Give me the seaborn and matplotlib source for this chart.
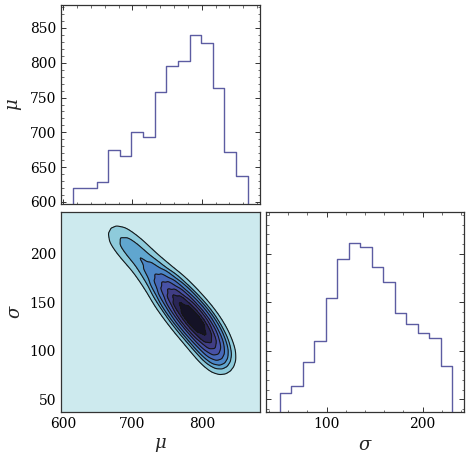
import sys, traceback
import numpy as np
import pandas as pd
import matplotlib
matplotlib.use("Agg")
import matplotlib.pyplot as plt
from matplotlib.ticker import MultipleLocator
from matplotlib.colors import ListedColormap
import seaborn as sns

# ---------------- data ----------------
# marginal histogram of mu (step outline), bin range and bar heights
mu_bin_range = (615.0, 866.0)
mu_heights = [620, 620, 629, 675, 666, 700, 693, 758, 795, 802, 840, 829, 763, 672, 637]

# marginal histogram of sigma
sigma_bin_range = (51.2, 230.7)
sigma_heights = [57, 64, 89, 110, 154, 195, 211, 207, 186, 171, 139, 128, 118, 113, 84]

# joint density: ridge of the posterior (mu, sigma) with relative weight
ridge_mu = [665, 675, 685, 695, 705, 715, 725, 735, 745, 755, 765, 775, 785, 795, 805, 815, 825, 835]
ridge_sigma = [228.5, 221.5, 214.5, 207.5, 200.5, 193.0, 185.0, 177.0, 169.0, 160.5,
               152.0, 143.5, 135.0, 126.5, 117.0, 106.4, 95.0, 83.6]
ridge_weight = [0.10, 0.17, 0.22, 0.25, 0.27, 0.28, 0.31, 0.38, 0.52, 0.68,
                0.82, 0.93, 0.99, 1.00, 0.96, 0.84, 0.60, 0.24]
# spread across the ridge
cross_offset = [-25, -20, -15, -10, -5, 0, 5, 10, 15, 20, 25]
cross_weight = [0.085, 0.206, 0.411, 0.674, 0.906, 1.0, 0.906, 0.674, 0.411, 0.206, 0.085]
cross_dir = (1.07, 0.70)

mu_label = r"$\mu$"
sigma_label = r"$\sigma$"

# ---------------- styling ----------------
sns.set_theme(style="ticks")
plt.rcParams.update({
    "font.family": ["DejaVu Serif"],
    "mathtext.fontset": "dejavuserif",
    "font.size": 10,
    "xtick.direction": "in", "ytick.direction": "in",
    "xtick.top": True, "ytick.right": True,
    "xtick.minor.visible": True, "ytick.minor.visible": True,
    "xtick.major.size": 3.5, "ytick.major.size": 3.5,
    "xtick.minor.size": 1.8, "ytick.minor.size": 1.8,
    "xtick.major.width": 0.7, "ytick.major.width": 0.7,
    "xtick.minor.width": 0.5, "ytick.minor.width": 0.5,
    "axes.linewidth": 0.9,
    "axes.edgecolor": "#333333",
    "xtick.color": "#333333", "ytick.color": "#333333",
    "xtick.labelcolor": "black", "ytick.labelcolor": "black",
    "xtick.labelsize": 10, "ytick.labelsize": 10,
    "axes.labelsize": 13,
})

band_colors = ["#cdeaee", "#8ecbdb", "#60a6cf", "#4c86c6", "#4769b8",
               "#4852a6", "#403d84", "#2a2658", "#141226"]
band_cmap = ListedColormap(band_colors)
line_color = "#5c5ca2"

mu_lim = (597, 884)
sigma_lim = (37, 243)

errors = []

fig = plt.figure(figsize=(4.74, 4.74), dpi=100)
W = H = 474.0
def pos(l, t, r, b):
    return [l / W, 1 - b / H, (r - l) / W, (b - t) / H]

ax_top = fig.add_axes(pos(61, 5, 260, 204))
ax_joint = fig.add_axes(pos(61, 212, 260, 412))
ax_right = fig.add_axes(pos(266, 212, 464, 412))


def step_hist(ax, heights, brange):
    edges = np.linspace(*brange, len(heights) + 1)
    centers = 0.5 * (edges[:-1] + edges[1:])
    try:
        sns.histplot(x=centers, weights=heights, bins=len(heights), binrange=brange,
                     element="step", fill=True, alpha=0.0, color=line_color,
                     linewidth=1.0, ax=ax)
    except Exception:
        errors.append("HIST: " + traceback.format_exc()[-500:])
        sns.histplot(x=centers, weights=heights, bins=len(heights), binrange=brange,
                     element="step", fill=False, color=line_color, linewidth=1.0, ax=ax)


# ---- top histogram (mu)
step_hist(ax_top, mu_heights, mu_bin_range)
ax_top.set_xlim(mu_lim)
ax_top.set_ylim(597, 883)
ax_top.xaxis.set_major_locator(MultipleLocator(100))
ax_top.xaxis.set_minor_locator(MultipleLocator(20))
ax_top.yaxis.set_major_locator(MultipleLocator(50))
ax_top.yaxis.set_minor_locator(MultipleLocator(10))
ax_top.tick_params(labelbottom=False)
ax_top.set_xlabel("")
ax_top.set_ylabel(mu_label)

# ---- joint density
rows = []
for m, s, w in zip(ridge_mu, ridge_sigma, ridge_weight):
    for o, cw in zip(cross_offset, cross_weight):
        rows.append((m + o * cross_dir[0], s + o * cross_dir[1], w * cw))
df = pd.DataFrame(rows, columns=["mu", "sigma", "w"])

BW = 0.5
ax_joint.set_facecolor(band_colors[0])
try:
    sns.kdeplot(x=df["mu"], y=df["sigma"], weights=df["w"], fill=True, levels=10,
                thresh=0, cmap=band_cmap, bw_adjust=BW, gridsize=250, cut=8,
                ax=ax_joint)
except Exception:
    errors.append("KDE_FILL: " + traceback.format_exc()[-600:])
try:
    sns.kdeplot(x=df["mu"], y=df["sigma"], weights=df["w"], fill=False, levels=9,
                thresh=1 / 9, color="#161616", linewidths=0.8, bw_adjust=BW,
                gridsize=250, cut=8, ax=ax_joint)
except Exception:
    errors.append("KDE_LINE: " + traceback.format_exc()[-600:])
ax_joint.set_xlim(mu_lim)
ax_joint.set_ylim(sigma_lim)
ax_joint.xaxis.set_major_locator(MultipleLocator(100))
ax_joint.xaxis.set_minor_locator(MultipleLocator(20))
ax_joint.yaxis.set_major_locator(MultipleLocator(50))
ax_joint.yaxis.set_minor_locator(MultipleLocator(10))
ax_joint.set_xlabel(mu_label)
ax_joint.set_ylabel(sigma_label)

# ---- right histogram (sigma)
step_hist(ax_right, sigma_heights, sigma_bin_range)
ax_right.set_xlim(sigma_lim)
ax_right.set_ylim(sigma_lim)
ax_right.xaxis.set_major_locator(MultipleLocator(100))
ax_right.xaxis.set_minor_locator(MultipleLocator(20))
ax_right.yaxis.set_major_locator(MultipleLocator(50))
ax_right.yaxis.set_minor_locator(MultipleLocator(10))
ax_right.tick_params(labelleft=False)
ax_right.set_ylabel("")
ax_right.set_xlabel(sigma_label)

for ax in (ax_top, ax_joint, ax_right):
    for sp in ax.spines.values():
        sp.set_visible(True)

fig.savefig("out.png", dpi=100)
if errors:
    sys.stderr.write("\n".join(errors) + "\n")
